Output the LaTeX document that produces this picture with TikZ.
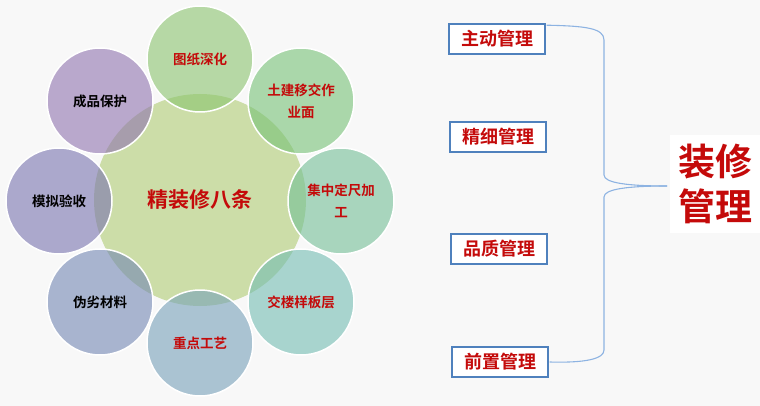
\documentclass[tikz,border=0pt]{standalone}
\usepackage{fontspec}
\usepackage{xcolor}
\usetikzlibrary{positioning,calc}
\newfontfamily\cjk{Noto Sans CJK SC}[BoldFont={Noto Sans CJK SC Bold}]
\definecolor{fondo}{RGB}{248,248,248}
\definecolor{centro}{RGB}{204,221,168}
\definecolor{circuno}{RGB}{138,196,110}
\definecolor{circdos}{RGB}{118,193,118}
\definecolor{circtres}{RGB}{115,191,151}
\definecolor{circcuatro}{RGB}{115,188,178}
\definecolor{circcinco}{RGB}{118,161,185}
\definecolor{circseis}{RGB}{115,135,181}
\definecolor{circsiete}{RGB}{121,115,175}
\definecolor{circocho}{RGB}{143,115,175}
\definecolor{rojotexto}{RGB}{196,10,10}
\definecolor{bordecaja}{RGB}{79,129,189}
\definecolor{llave}{RGB}{141,179,226}

\tikzset{
  circulo/.style={circle, draw=white, line width=1.5pt, fill opacity=0.6,
      text opacity=1, minimum size=106pt, inner sep=0pt, align=center,
      font=\cjk\bfseries\fontsize{13.5}{22}\selectfont},
  cajagestion/.style={rectangle, draw=bordecaja, line width=1.6pt, fill=white,
      minimum width=96pt, minimum height=30pt, inner sep=0pt, text=rojotexto,
      font=\cjk\bfseries\fontsize{18}{20}\selectfont},
  llavelinea/.style={draw=llave, line width=1.1pt}
}

\begin{document}
\begin{tikzpicture}[x=1pt, y=-1pt]
\useasboundingbox[fill=fondo] (0,0) rectangle (760,406);
% centro
\node[circle, fill=centro, minimum size=212pt, inner sep=0pt, text=rojotexto,
      font=\cjk\bfseries\fontsize{21}{24}\selectfont] (centro) at (200,200) {精装修八条};
% ocho circulos
\node[circulo, fill=circuno, text=rojotexto] (tuzhi) at (200,59) {图纸深化};
\node[circulo, fill=circdos, text=rojotexto] (tujian) at (301,101) {土建移交作\\业面};
\node[circulo, fill=circtres, text=rojotexto] (jizhong) at (341,201) {集中定尺加\\工};
\node[circulo, fill=circcuatro, text=rojotexto] (jiaolou) at (301,302) {交楼样板层};
\node[circulo, fill=circcinco, text=rojotexto] (zhongdian) at (200,343) {重点工艺};
\node[circulo, fill=circseis, text=black] (weilie) at (100,302) {伪劣材料};
\node[circulo, fill=circsiete, text=black] (moni) at (59,201) {模拟验收};
\node[circulo, fill=circocho, text=black] (chengpin) at (100,101) {成品保护};
% cajas de gestion
\node[cajagestion] (zhudong) at (497,39) {主动管理};
\node[cajagestion] (jingxi) at (498,137) {精细管理};
\node[cajagestion] (pinzhi) at (499,249) {品质管理};
\node[cajagestion] (qianzhi) at (500,362) {前置管理};
% titulo
\node[rectangle, fill=white, minimum width=90pt, minimum height=97pt, inner sep=0pt,
      align=center, text=rojotexto, font=\cjk\bfseries\fontsize{37}{45}\selectfont]
      (zhuangxiu) at (715,184) {装修\\管理};
\coordinate (punta) at (667,186);
% llave
\draw[llavelinea] ($(zhudong.north east)+(0.8,2)$) .. controls (585,26) and (604,28) .. (604,40)
  -- (604,175) .. controls (604,183) and (628,186) .. (punta);
\draw[llavelinea] (punta) .. controls (628,186) and (604,189) .. (604,197)
  -- (604,350) .. controls (604,359) and (585,363) .. ($(qianzhi.east)+(0.8,0)$);
\end{tikzpicture}
\end{document}
